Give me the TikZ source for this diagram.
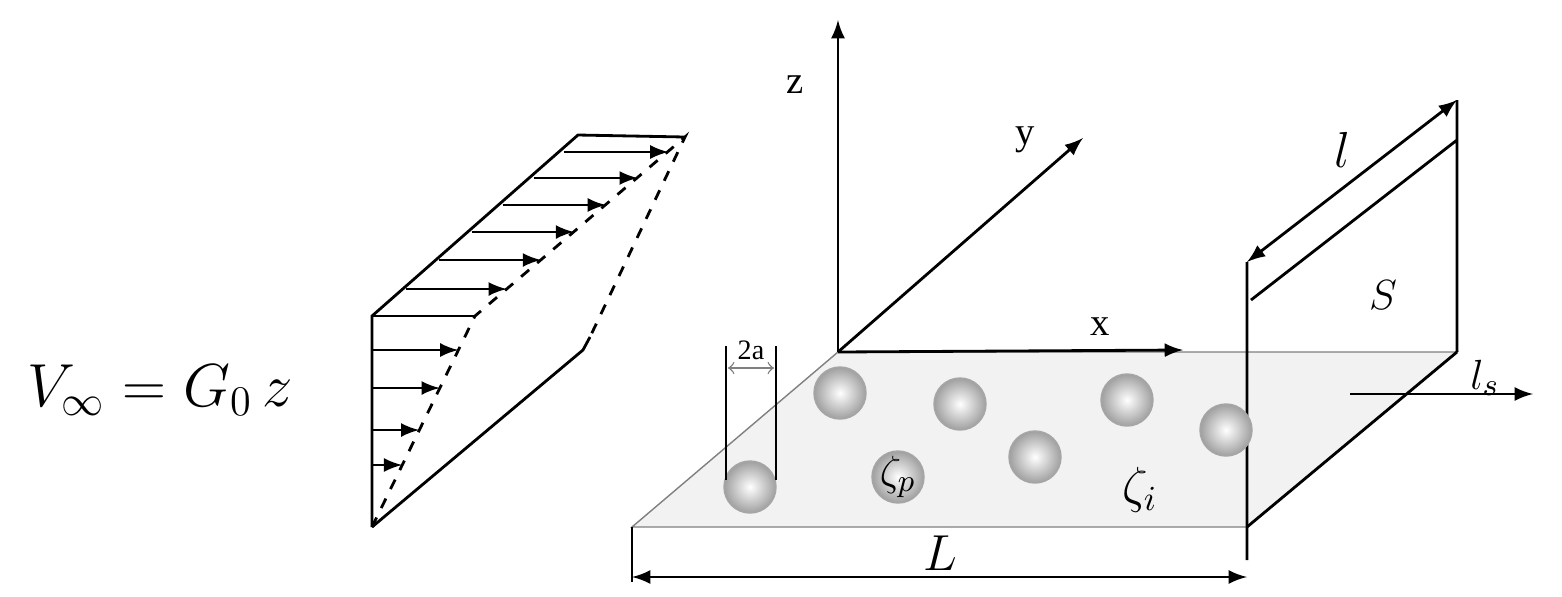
\documentclass[tikz,border=0pt]{standalone}
\usepackage{fontspec}
\setmainfont{Liberation Serif}
\usetikzlibrary{positioning}
\tikzset{
  ball/.style={circle,minimum size=0.52cm,inner sep=0pt,draw=gray!70,inner color=white,outer color=gray!75},
  flow/.style={-latex,thick},
  dim/.style={latex-latex,thick}
}
\begin{document}
\begin{tikzpicture}[x=0.01cm,y=-0.01cm]
    \useasboundingbox (0,0) rectangle (1562,596);
    % plane
    \coordinate (fl) at (632,527); \coordinate (fr) at (1247,527);
    \coordinate (br) at (1457,352); \coordinate (o) at (838,352);
    \draw[gray,fill=gray!10] (fl) -- (fr) -- (br) -- (o) -- cycle;
    \draw[thick] (fr) -- (br);
    % axes
    \draw[-latex,thick] (o) -- (838,20);
    \draw[-latex,thick] (o) -- (1183,350);
    \draw[-latex,thick] (o) -- (1083,138);
    \node (z) at (795,85) {\fontsize{11}{12}\selectfont z};
    \node (x) at (1100,327) {\fontsize{11}{12}\selectfont x};
    \node (y) at (1025,140) {\fontsize{11}{12}\selectfont y};
    % wall
    \draw[thick] (1247,560) -- (1247,262) (br) -- (1457,100) (1251,300) -- (1457,140);
    \draw[dim] (1457,100) -- (1247,262);
    \node (l) at (1342,150) {\fontsize{14}{16}\selectfont$l$};
    \node (S) at (1383,295) {\fontsize{13}{15}\selectfont$S$};
    \coordinate (ls0) at (1350,394);
    \draw[flow] (ls0) -- (1533,394);
    \node (ls) at (1485,378) {\fontsize{13}{15}\selectfont$l_s$};
    % L
    \draw[thick] (fl) -- (632,582);
    \draw[dim] (632,577) -- (1247,577);
    \node (L) at (940,553) {\fontsize{14}{16}\selectfont$L$};
    % spheres
    \foreach \px/\py/\nm in {750/487/b1,840/393/b2,960/404/b3,1035/457/b4,1127/400/b5,1226/430/b6,898/477/bp}
      \node[ball] (\nm) at (\px,\py) {};
    \node at (bp) {\fontsize{13}{15}\selectfont$\zeta_p$};
    \node (zi) at (1140,490) {\fontsize{14}{16}\selectfont$\zeta_i$};
    \draw (726,346) -- (726,480) (776,346) -- (776,480);
    \draw[<->,gray] (728,368) -- (774,368);
    \node (a2) at (751,350) {\fontsize{8}{9}\selectfont 2a};
    % shear profile
    \coordinate (p0) at (372,527); \coordinate (p1) at (372,316);
    \coordinate (p2) at (475,316); \coordinate (p3) at (685,137);
    \draw[thick] (p0) -- (p1) -- (578,135) -- (p3);
    \draw[thick] (p1) -- (p2);
    \draw[thick,dashed] (p0) -- (p2) -- (p3) -- (590,337);
    \draw[thick] (590,337) -- (583,350) -- (p0);
    \foreach \yy in {350,388,430,465}
      \draw[flow] (372,\yy) -- ({372+(527-\yy)/211*103},\yy);
    \foreach \yy in {289,260,232,205,178,152}
      \draw[flow] ({375+1.15*(316-\yy)},\yy) -- ({475+(316-\yy)/178*210},\yy);
    \node (V) at (160,390) {\fontsize{18}{21}\selectfont$V_\infty = G_0\, z$};
\end{tikzpicture}
\end{document}
